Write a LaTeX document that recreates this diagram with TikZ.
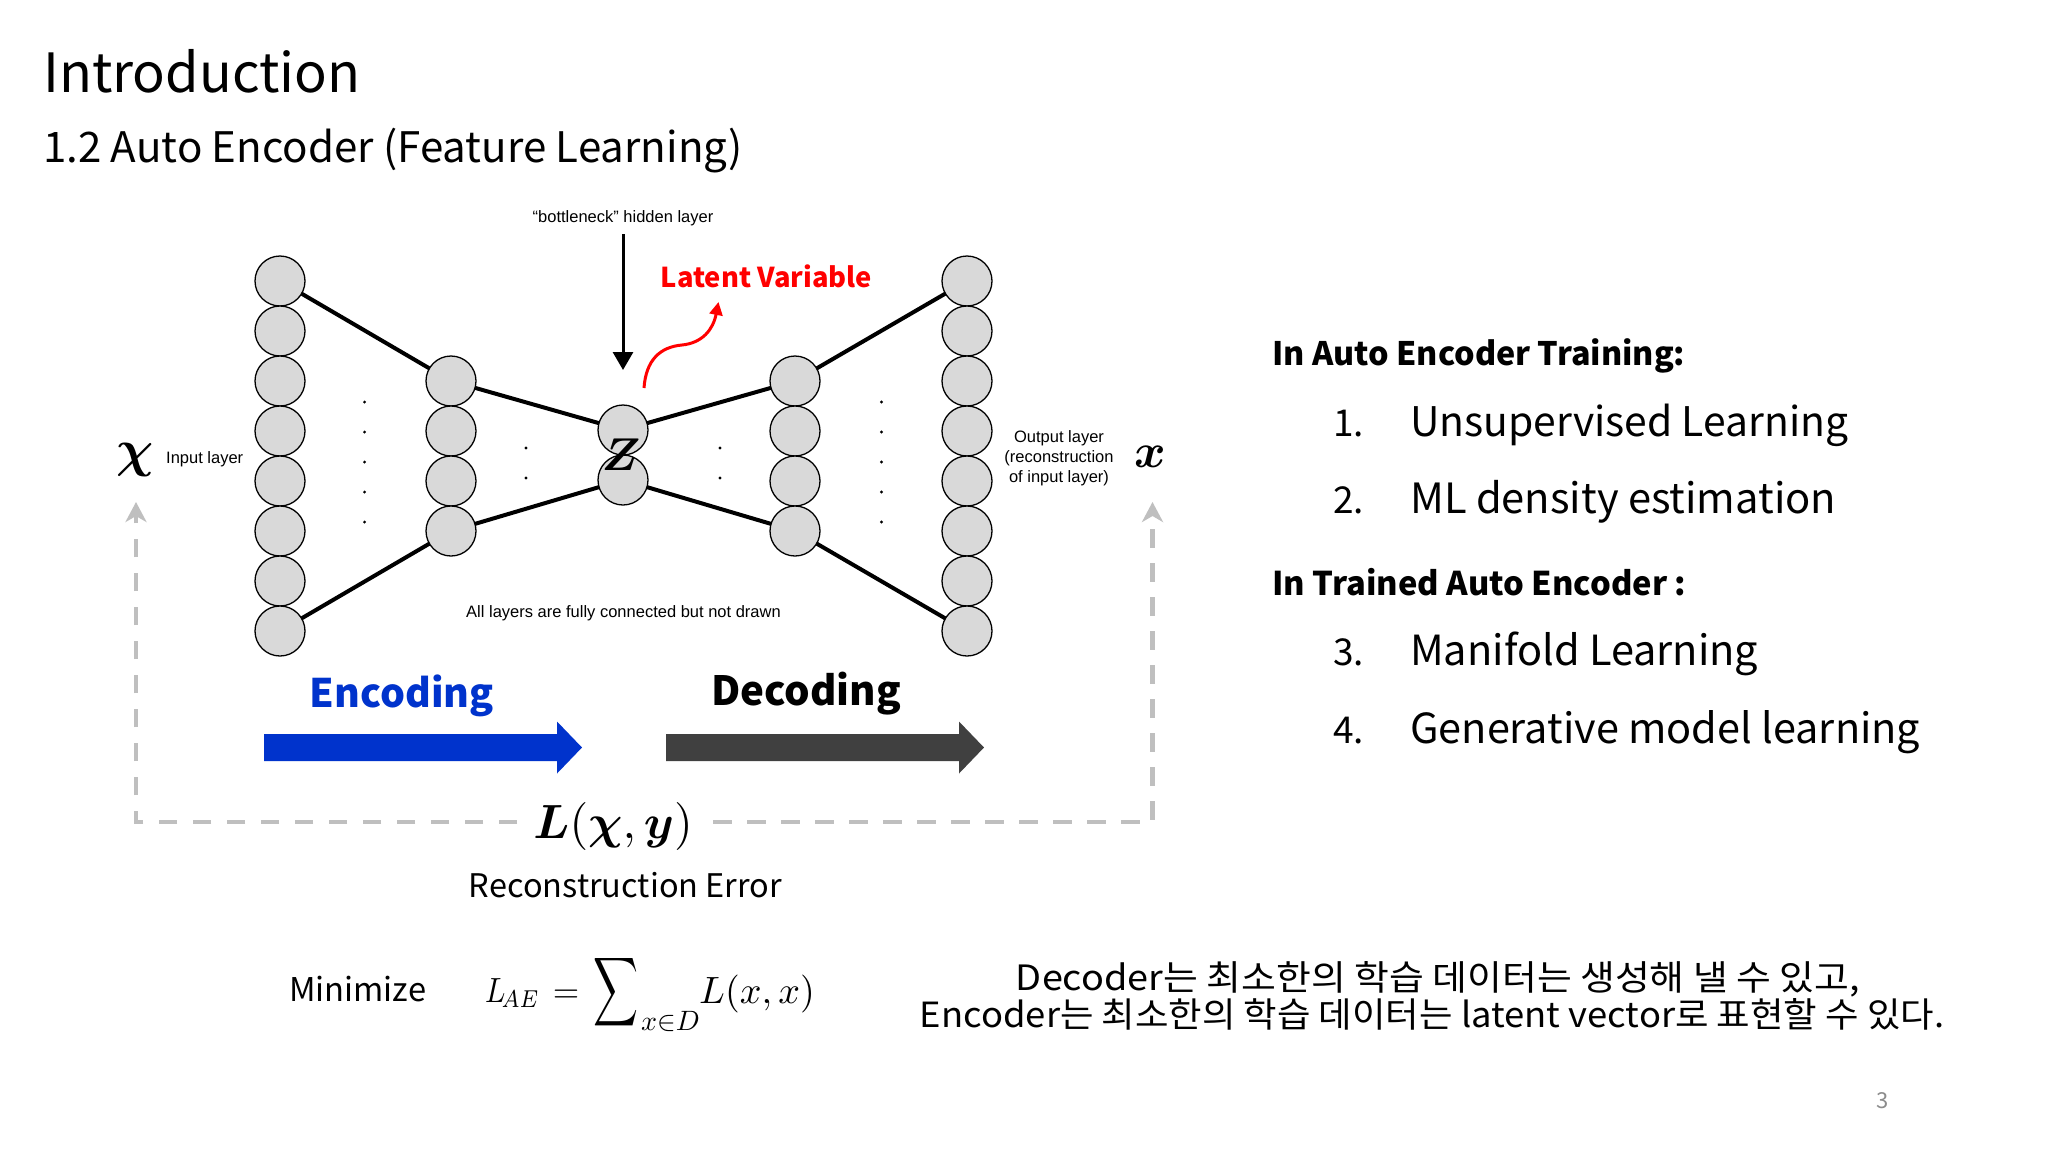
\documentclass[tikz,border=0pt]{standalone}
\usepackage{fontspec}
\usepackage{bm}
\usepackage{graphicx}
\newfontfamily\slidefont{Noto Sans CJK KR}
\newfontfamily\arialfont{Liberation Sans}
\usetikzlibrary{arrows.meta}
\pgfdeclarelayer{background}
\pgfsetlayers{background,main}
\definecolor{nodegray}{HTML}{D9D9D9}
\definecolor{lossgray}{HTML}{BFBFBF}
\definecolor{encblue}{HTML}{0033CC}
\definecolor{decgray}{HTML}{404040}
\definecolor{pagegray}{HTML}{8C8C8C}
\definecolor{latred}{HTML}{FF0000}
\newcommand{\fitw}[2]{\resizebox{#1}{!}{#2}}
\tikzset{
  neuron/.style={circle, draw=black, line width=1.3pt, fill=nodegray, minimum size=50pt, inner sep=0pt},
  conn/.style={line width=4pt, black},
  txt/.style={inner sep=0pt, anchor=base west},
  ctxt/.style={inner sep=0pt, anchor=base},
  lab/.style={inner sep=0pt, font=\arialfont\fontsize{16.5}{20}\selectfont},
  lossline/.style={line width=4.5pt, lossgray, dash pattern=on 18.5pt off 15.5pt, -{Stealth[length=20pt, width=21pt, inset=6pt]}},
}
\begin{document}
\begin{tikzpicture}[x=1pt, y=-1pt]
\useasboundingbox (0,0) rectangle (2048,1152);

% titles
\node[txt] (intro) at (43,92) {\fitw{317pt}{\slidefont\fontsize{60}{60}\selectfont Introduction}};
\node[txt] (sub) at (43,162) {\fitw{699pt}{\slidefont\fontsize{40}{40}\selectfont 1.2 Auto Encoder (Feature Learning)}};

% neurons
\foreach \k in {1,...,8} {
  \node[neuron] (i\k) at (280,{231+50*\k}) {};
  \node[neuron] (o\k) at (967,{231+50*\k}) {};
}
\foreach \k in {1,...,4} {
  \node[neuron] (e\k) at (451,{331+50*\k}) {};
  \node[neuron] (d\k) at (795,{331+50*\k}) {};
}
\node[neuron] (z1) at (623,430) {};
\node[neuron] (z2) at (623,480) {};

\begin{pgfonlayer}{background}
\fill[white] (0,0) rectangle (2048,1152);
\draw[conn] (i1.center) -- (e1.center);
\draw[conn] (e1.center) -- (z1.center);
\draw[conn] (z1.center) -- (d1.center);
\draw[conn] (d1.center) -- (o1.center);
\draw[conn] (i8.center) -- (e4.center);
\draw[conn] (e4.center) -- (z2.center);
\draw[conn] (z2.center) -- (d4.center);
\draw[conn] (d4.center) -- (o8.center);
\end{pgfonlayer}

\node[inner sep=0pt] (zlab) at (621,455) {\scalebox{4.6}{$\bm{Z}$}};

% dots
\foreach \yy in {402,432,462,492,522} {
  \fill (364.6,\yy) circle (1.6pt);
  \fill (881.5,\yy) circle (1.6pt);
}
\foreach \yy in {448,478} {
  \fill (526,\yy) circle (1.6pt);
  \fill (720,\yy) circle (1.6pt);
}

% labels
\node[lab, anchor=base] (bn) at (623,222) {“bottleneck” hidden layer};
\coordinate (bnA) at (623,234);
\coordinate (bnB) at (623,370);
\draw[line width=3pt, -{Triangle[length=18pt, width=20pt]}] (bnA) -- (bnB);

\node[ctxt] (lv) at (766.5,287) {\fitw{211pt}{\slidefont\bfseries\color{latred} Latent Variable}};
\coordinate (lvA) at (644,388);
\coordinate (lvB) at (718.5,302);
\draw[latred, line width=3pt, -{Triangle[length=13pt, width=13pt]}] (lvA) .. controls (646,360) and (660,347) .. (682,345) .. controls (702,343) and (713,330) .. (lvB);

\node[inner sep=0pt] (chi) at (135,460) {\scalebox{5.2}{$\bm{\chi}$}};
\node[lab, anchor=base west] (inl) at (166,463) {Input layer};
\node[lab, align=center] (outl) at (1059,458) {Output layer\\(reconstruction\\of input layer)};
\node[inner sep=0pt] (xr) at (1150,457) {\scalebox{4.8}{$\bm{x}$}};
\node[lab, anchor=base] (all) at (623.5,617) {All layers are fully connected but not drawn};

% encoding / decoding
\node[ctxt] (enc) at (402,707) {\fitw{184pt}{\slidefont\bfseries\color{encblue} Encoding}};
\node[ctxt] (dec) at (806,705) {\fitw{190pt}{\slidefont\bfseries Decoding}};
\fill[encblue] (264,734) -- (557,734) -- (557,721.5) -- (582,747.5) -- (557,773.5) -- (557,761) -- (264,761) -- cycle;
\fill[decgray] (666,734) -- (959,734) -- (959,721.5) -- (984,747.5) -- (959,773.5) -- (959,761) -- (666,761) -- cycle;

% loss loop
\node[inner sep=0pt] (lxy) at (613,826) {\scalebox{4.8}{$\bm{L}(\bm{\chi},\bm{y})$}};
\coordinate (lossLa) at (517,822);
\coordinate (lossLc) at (136,822);
\coordinate (lossLt) at (136,502);
\coordinate (lossRa) at (713,822);
\coordinate (lossRc) at (1152.5,822);
\coordinate (lossRt) at (1152.5,502);
\draw[lossline] (lossLa) -- (lossLc) -- (lossLt);
\draw[lossline] (lossRa) -- (lossRc) -- (lossRt);
\node[ctxt] (rec) at (625.5,897) {\fitw{313pt}{\slidefont Reconstruction Error}};

% right text
\node[txt] (h1) at (1272,365) {\fitw{413pt}{\slidefont\bfseries In Auto Encoder Training:}};
\node[txt] (n1) at (1333,436) {\slidefont\fontsize{37}{37}\selectfont 1.};
\node[txt] (u1) at (1410,436) {\fitw{438pt}{\slidefont Unsupervised Learning}};
\node[txt] (n2) at (1333,513) {\slidefont\fontsize{37}{37}\selectfont 2.};
\node[txt] (u2) at (1410,513) {\fitw{426pt}{\slidefont ML density estimation}};
\node[txt] (h2) at (1272,595) {\fitw{414pt}{\slidefont\bfseries In Trained Auto Encoder :}};
\node[txt] (n3) at (1333,665) {\slidefont\fontsize{37}{37}\selectfont 3.};
\node[txt] (u3) at (1410,665) {\fitw{348pt}{\slidefont Manifold Learning}};
\node[txt] (n4) at (1333,743) {\slidefont\fontsize{37}{37}\selectfont 4.};
\node[txt] (u4) at (1410,743) {\fitw{510pt}{\slidefont Generative model learning}};

% formula
\node[txt] (mini) at (289,1001) {\fitw{137pt}{\slidefont Minimize}};
\node[txt] (lae) at (485,1002) {\scalebox{3.0}[3.5]{$L_{\!AE}$}};
\node[ctxt] (eq) at (566,1002) {\scalebox{3.4}{$=$}};
\node[inner sep=0pt, anchor=north west] (sig) at (593,953) {\resizebox*{45pt}{77pt}{$\displaystyle\sum$}};
\node[txt] (sub) at (641,1030) {\scalebox{2.8}{$x{\in}D$}};
\node[txt] (lxx) at (699,1003) {\scalebox{3.8}{$L(x,x)$}};

% korean
\node[ctxt] (k1) at (1438,990) {\resizebox{844pt}{29pt}{\slidefont Decoder는 최소한의 학습 데이터는 생성해 낼 수 있고,}};
\node[ctxt] (k2) at (1432,1027) {\resizebox{1024pt}{29pt}{\slidefont Encoder는 최소한의 학습 데이터는 latent vector로 표현할 수 있다.}};

\node[ctxt] (pg) at (1883,1108) {\slidefont\fontsize{22}{22}\selectfont\color{pagegray}3};
\end{tikzpicture}
\end{document}
